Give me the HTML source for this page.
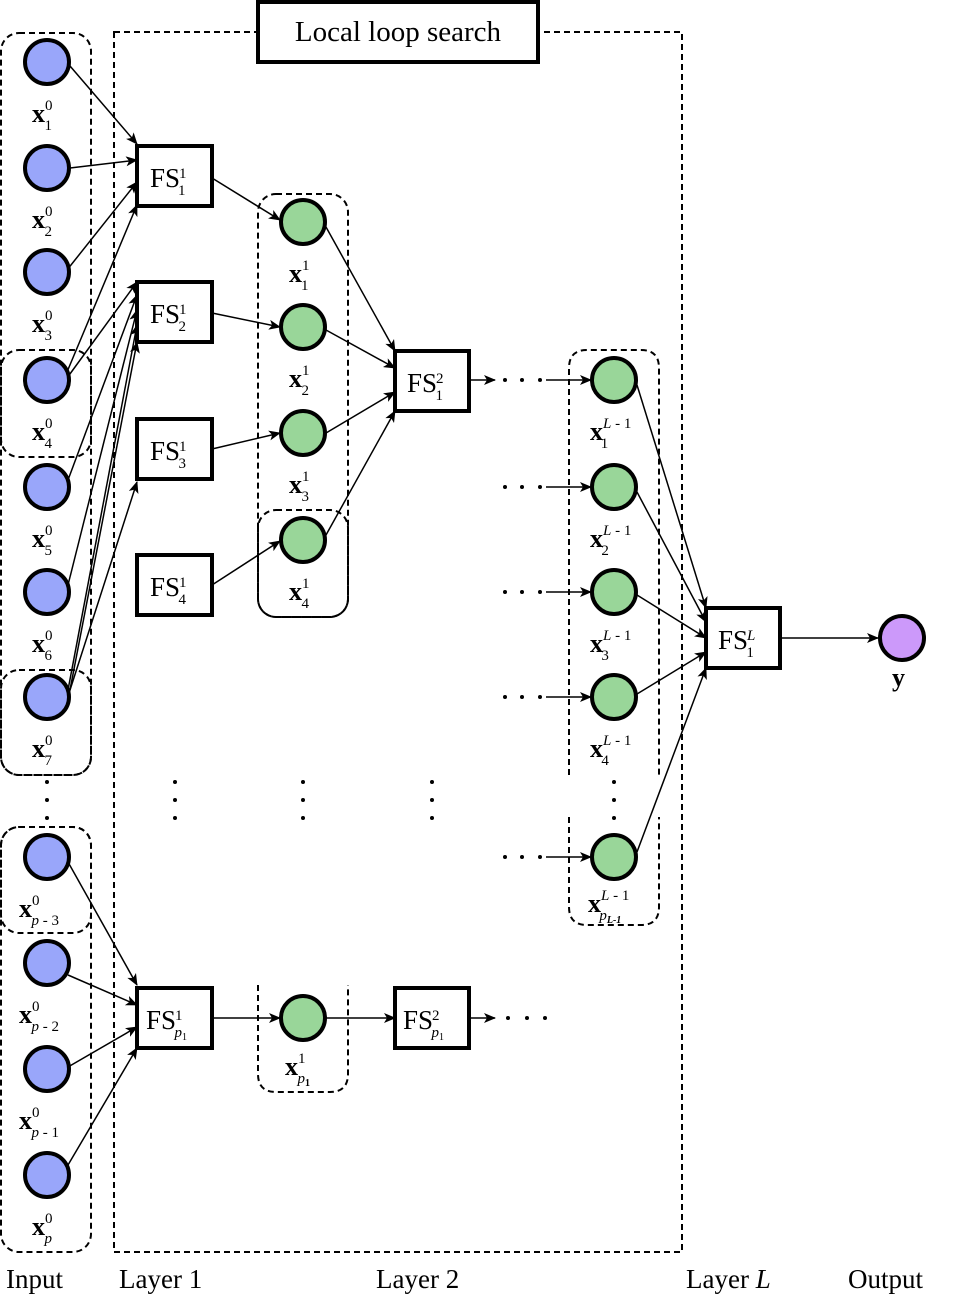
<!DOCTYPE html>
<html><head><meta charset="utf-8"><style>
body{margin:0;background:#fff}
svg{display:block}
text{font-family:"Liberation Serif",serif;fill:#000}
.lb{font-size:26px;font-weight:bold}
.sm{font-size:15px;font-weight:normal}
.it{font-style:italic}
.fs{font-size:27px}
.ax{font-size:27px}
</style></head><body>
<svg width="955" height="1296" viewBox="0 0 955 1296" xmlns="http://www.w3.org/2000/svg">
<defs><marker id="a" markerWidth="12" markerHeight="10" refX="11" refY="5" orient="auto" markerUnits="userSpaceOnUse"><path d="M0,0 L12,5 L0,10 L3,5z" fill="#000"/></marker></defs>
<g fill="none" stroke="#000" stroke-width="2" stroke-dasharray="6,4">
<rect x="114" y="32" width="568" height="1220"/>
<rect x="1" y="33" width="90" height="742" rx="18"/>
<rect x="1" y="827" width="90" height="425" rx="18"/>
<rect x="1" y="350" width="90" height="107" rx="18"/>
<rect x="1" y="670" width="90" height="105" rx="18"/>
<rect x="1" y="827" width="90" height="106" rx="18"/>
<rect x="258" y="194" width="90" height="423" rx="18"/>
<rect x="258" y="510" width="90" height="107" rx="18"/>
<path d="M258,985 V1074 Q258,1092 276,1092 H330 Q348,1092 348,1074 V985"/>
<path d="M569,775 V368 Q569,350 587,350 H641 Q659,350 659,368 V775"/>
<path d="M569,817 V907 Q569,925 587,925 H641 Q659,925 659,907 V817"/>
</g>
<rect x="258" y="2" width="280" height="60" fill="#fff" stroke="#000" stroke-width="4"/>
<text x="398" y="41" font-size="29" text-anchor="middle">Local loop search</text>
<g stroke="#000" stroke-width="1.5" marker-end="url(#a)">
<line x1="70" y1="66" x2="137" y2="144"/>
<line x1="70" y1="168" x2="137" y2="160"/>
<line x1="67" y1="270" x2="137" y2="182"/>
<line x1="67" y1="372" x2="137" y2="205"/>
<line x1="67" y1="378" x2="137" y2="282"/>
<line x1="68" y1="480" x2="137" y2="295"/>
<line x1="68" y1="585" x2="137" y2="310"/>
<line x1="68" y1="690" x2="137" y2="325"/>
<line x1="69" y1="695" x2="137" y2="342"/>
<line x1="70" y1="690" x2="137" y2="482"/>
<line x1="68" y1="862" x2="137" y2="985"/>
<line x1="68" y1="975" x2="137" y2="1005"/>
<line x1="68" y1="1067" x2="137" y2="1027"/>
<line x1="68" y1="1165" x2="137" y2="1048"/>
<line x1="212" y1="178" x2="280" y2="220"/>
<line x1="212" y1="313" x2="280" y2="327"/>
<line x1="212" y1="449" x2="280" y2="433"/>
<line x1="212" y1="585" x2="280" y2="541"/>
<line x1="212" y1="1018" x2="280" y2="1018"/>
<line x1="326" y1="1018" x2="395" y2="1018"/>
<line x1="326" y1="227" x2="395" y2="351"/>
<line x1="326" y1="330" x2="395" y2="368"/>
<line x1="326" y1="433" x2="395" y2="392"/>
<line x1="326" y1="535" x2="395" y2="411"/>
<line x1="469" y1="380" x2="495" y2="380"/>
<line x1="469" y1="1018" x2="495" y2="1018"/>
<line x1="546" y1="380" x2="591" y2="380"/>
<line x1="546" y1="487" x2="591" y2="487"/>
<line x1="546" y1="592" x2="591" y2="592"/>
<line x1="546" y1="697" x2="591" y2="697"/>
<line x1="546" y1="857" x2="591" y2="857"/>
<line x1="637" y1="385" x2="706" y2="608"/>
<line x1="637" y1="492" x2="706" y2="622"/>
<line x1="637" y1="595" x2="706" y2="638"/>
<line x1="637" y1="694" x2="706" y2="652"/>
<line x1="637" y1="852" x2="706" y2="668"/>
<line x1="780" y1="638" x2="878" y2="638"/>
</g>
<g stroke="#000" stroke-width="4" fill="#fff">
<rect x="137" y="146" width="75" height="60"/>
<rect x="137" y="282" width="75" height="60"/>
<rect x="137" y="419" width="75" height="60"/>
<rect x="137" y="555" width="75" height="60"/>
<rect x="137" y="988" width="75" height="60"/>
<rect x="395" y="351" width="74" height="60"/>
<rect x="395" y="988" width="74" height="60"/>
<rect x="706" y="608" width="74" height="60"/>
</g>
<g stroke="#000" stroke-width="4" fill="#99a6fa">
<circle cx="47" cy="62" r="22"/><circle cx="47" cy="168" r="22"/><circle cx="47" cy="272" r="22"/><circle cx="47" cy="380" r="22"/><circle cx="47" cy="487" r="22"/><circle cx="47" cy="592" r="22"/><circle cx="47" cy="697" r="22"/><circle cx="47" cy="857" r="22"/><circle cx="47" cy="963" r="22"/><circle cx="47" cy="1069" r="22"/><circle cx="47" cy="1175" r="22"/>
</g>
<g stroke="#000" stroke-width="4" fill="#99d699">
<circle cx="303" cy="222" r="22"/><circle cx="303" cy="327" r="22"/><circle cx="303" cy="433" r="22"/><circle cx="303" cy="540" r="22"/><circle cx="303" cy="1018" r="22"/>
<circle cx="614" cy="380" r="22"/><circle cx="614" cy="487" r="22"/><circle cx="614" cy="592" r="22"/><circle cx="614" cy="697" r="22"/><circle cx="614" cy="857" r="22"/>
</g>
<circle cx="902" cy="638" r="22" stroke="#000" stroke-width="4" fill="#cc99fa"/>
<g class="fs">
<text x="150" y="187">FS<tspan class="sm" dx="-1" dy="-9">1</tspan><tspan class="sm" dx="-8" dy="17">1</tspan></text>
<text x="150" y="323">FS<tspan class="sm" dx="-1" dy="-9">1</tspan><tspan class="sm" dx="-8" dy="17">2</tspan></text>
<text x="150" y="460">FS<tspan class="sm" dx="-1" dy="-9">1</tspan><tspan class="sm" dx="-8" dy="17">3</tspan></text>
<text x="150" y="596">FS<tspan class="sm" dx="-1" dy="-9">1</tspan><tspan class="sm" dx="-8" dy="17">4</tspan></text>
<text x="146" y="1029">FS<tspan class="sm" dx="-1" dy="-9">1</tspan><tspan class="sm it" dx="-8" dy="17">p</tspan><tspan font-size="10" dy="3">1</tspan></text>
<text x="407" y="392">FS<tspan class="sm" dx="-1" dy="-9">2</tspan><tspan class="sm" dx="-8" dy="17">1</tspan></text>
<text x="403" y="1029">FS<tspan class="sm" dx="-1" dy="-9">2</tspan><tspan class="sm it" dx="-8" dy="17">p</tspan><tspan font-size="10" dy="3">1</tspan></text>
<text x="718" y="649">FS<tspan class="sm it" dx="-1" dy="-9">L</tspan><tspan class="sm" dx="-9" dy="17">1</tspan></text>
</g>
<g class="lb">
<text x="32" y="122">x<tspan class="sm" dy="-12">0</tspan><tspan class="sm" dx="-8" dy="20">1</tspan></text>
<text x="32" y="228">x<tspan class="sm" dy="-12">0</tspan><tspan class="sm" dx="-8" dy="20">2</tspan></text>
<text x="32" y="332">x<tspan class="sm" dy="-12">0</tspan><tspan class="sm" dx="-8" dy="20">3</tspan></text>
<text x="32" y="440">x<tspan class="sm" dy="-12">0</tspan><tspan class="sm" dx="-8" dy="20">4</tspan></text>
<text x="32" y="547">x<tspan class="sm" dy="-12">0</tspan><tspan class="sm" dx="-8" dy="20">5</tspan></text>
<text x="32" y="652">x<tspan class="sm" dy="-12">0</tspan><tspan class="sm" dx="-8" dy="20">6</tspan></text>
<text x="32" y="757">x<tspan class="sm" dy="-12">0</tspan><tspan class="sm" dx="-8" dy="20">7</tspan></text>
<text x="19" y="917">x<tspan class="sm" dy="-12">0</tspan><tspan class="sm it" dx="-8" dy="20">p</tspan><tspan class="sm"> - 3</tspan></text>
<text x="19" y="1023">x<tspan class="sm" dy="-12">0</tspan><tspan class="sm it" dx="-8" dy="20">p</tspan><tspan class="sm"> - 2</tspan></text>
<text x="19" y="1129">x<tspan class="sm" dy="-12">0</tspan><tspan class="sm it" dx="-8" dy="20">p</tspan><tspan class="sm"> - 1</tspan></text>
<text x="32" y="1235">x<tspan class="sm" dy="-12">0</tspan><tspan class="sm it" dx="-8" dy="20">p</tspan></text>
<text x="289" y="282">x<tspan class="sm" dy="-12">1</tspan><tspan class="sm" dx="-8" dy="20">1</tspan></text>
<text x="289" y="387">x<tspan class="sm" dy="-12">1</tspan><tspan class="sm" dx="-8" dy="20">2</tspan></text>
<text x="289" y="493">x<tspan class="sm" dy="-12">1</tspan><tspan class="sm" dx="-8" dy="20">3</tspan></text>
<text x="289" y="600">x<tspan class="sm" dy="-12">1</tspan><tspan class="sm" dx="-8" dy="20">4</tspan></text>
<text x="285" y="1075">x<tspan class="sm" dy="-12">1</tspan><tspan class="sm it" dx="-8" dy="20">p</tspan><tspan font-size="10" dy="3">1</tspan></text>
<text x="590" y="440">x<tspan class="sm it" dy="-12">L</tspan><tspan class="sm"> - 1</tspan><tspan class="sm" dx="-30" dy="20">1</tspan></text>
<text x="590" y="547">x<tspan class="sm it" dy="-12">L</tspan><tspan class="sm"> - 1</tspan><tspan class="sm" dx="-30" dy="20">2</tspan></text>
<text x="590" y="652">x<tspan class="sm it" dy="-12">L</tspan><tspan class="sm"> - 1</tspan><tspan class="sm" dx="-30" dy="20">3</tspan></text>
<text x="590" y="757">x<tspan class="sm it" dy="-12">L</tspan><tspan class="sm"> - 1</tspan><tspan class="sm" dx="-30" dy="20">4</tspan></text>
<text x="588" y="912">x<tspan class="sm it" dy="-12">L</tspan><tspan class="sm"> - 1</tspan><tspan class="sm it" dx="-30" dy="20">p</tspan><tspan font-size="10" class="it" dy="3">L-1</tspan></text>
<text x="892" y="686">y</text>
</g>
<g fill="#000">
<circle cx="505" cy="380" r="2"/><circle cx="522" cy="380" r="2"/><circle cx="540" cy="380" r="2"/>
<circle cx="505" cy="487" r="2"/><circle cx="522" cy="487" r="2"/><circle cx="540" cy="487" r="2"/>
<circle cx="505" cy="592" r="2"/><circle cx="522" cy="592" r="2"/><circle cx="540" cy="592" r="2"/>
<circle cx="505" cy="697" r="2"/><circle cx="522" cy="697" r="2"/><circle cx="540" cy="697" r="2"/>
<circle cx="505" cy="857" r="2"/><circle cx="522" cy="857" r="2"/><circle cx="540" cy="857" r="2"/>
<circle cx="508" cy="1018" r="2"/><circle cx="527" cy="1018" r="2"/><circle cx="545" cy="1018" r="2"/>
<circle cx="47" cy="782" r="2"/><circle cx="47" cy="800" r="2"/><circle cx="47" cy="818" r="2"/>
<circle cx="175" cy="782" r="2"/><circle cx="175" cy="800" r="2"/><circle cx="175" cy="818" r="2"/>
<circle cx="303" cy="782" r="2"/><circle cx="303" cy="800" r="2"/><circle cx="303" cy="818" r="2"/>
<circle cx="432" cy="782" r="2"/><circle cx="432" cy="800" r="2"/><circle cx="432" cy="818" r="2"/>
<circle cx="614" cy="782" r="2"/><circle cx="614" cy="800" r="2"/><circle cx="614" cy="818" r="2"/>
</g>
<g class="ax">
<text x="6" y="1288">Input</text>
<text x="119" y="1288">Layer 1</text>
<text x="376" y="1288">Layer 2</text>
<text x="686" y="1288">Layer <tspan class="it">L</tspan></text>
<text x="848" y="1288">Output</text>
</g>
</svg>
</body></html>
